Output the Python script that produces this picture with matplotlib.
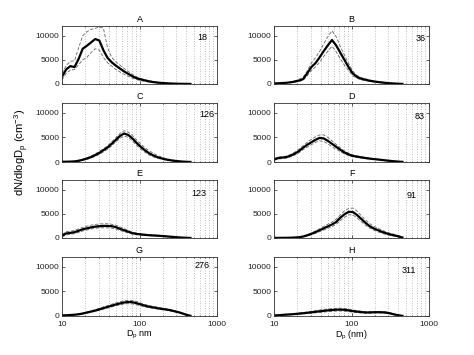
import matplotlib
matplotlib.use("Agg")
import matplotlib.pyplot as plt
from matplotlib.ticker import LogLocator, NullFormatter

plt.rcParams['font.family'] = ['Liberation Sans', 'DejaVu Sans']

# Particle diameter bins (nm)
D = [10, 11.3, 12.8, 14.5, 16.4, 18.5, 20.9, 23.7, 26.8, 30.3, 34.2, 38.7, 43.8, 49.5, 56, 63.3,
     71.6, 81, 91.6, 103.6, 117, 132.5, 150, 169.5, 191.7, 216.8, 245, 277, 313, 355, 401, 454]

panel_names = ["A", "B", "C", "D", "E", "F", "G", "H"]
panel_counts = ["18", "36", "126", "83", "123", "91", "276", "311"]

A_mean = [1500, 3000, 3700, 3500, 5200, 7300, 7900, 8600, 9300, 9000, 7000, 5400, 4500, 3800, 3200, 2600,
          2100, 1600, 1200, 950, 750, 550, 400, 300, 220, 160, 110, 80, 50, 30, 20, 10]
A_up = [2200, 3800, 4700, 4800, 7500, 10000, 10800, 11300, 11500, 11800, 11600, 7500, 5500, 4600, 3900, 3200,
        2600, 2000, 1500, 1150, 900, 680, 500, 380, 280, 200, 140, 100, 65, 40, 25, 12]
A_lo = [800, 2200, 2900, 3000, 4000, 5000, 5500, 6500, 7300, 7000, 5500, 4400, 3700, 3000, 2500, 2000,
        1600, 1200, 900, 700, 550, 400, 300, 220, 160, 120, 80, 60, 35, 20, 12, 5]

B_mean = [100, 150, 200, 250, 350, 500, 700, 1000, 2200, 3500, 4300, 5500, 6800, 8000, 9100, 8000,
          6500, 5000, 3500, 2200, 1500, 1100, 900, 700, 550, 420, 320, 230, 150, 100, 50, 20]
B_up = [150, 200, 260, 330, 450, 650, 950, 1400, 2700, 4300, 5400, 6700, 8300, 9800, 11000, 9800,
        7800, 6000, 4300, 2700, 1800, 1350, 1100, 850, 650, 500, 380, 270, 180, 120, 60, 25]
B_lo = [60, 100, 150, 200, 280, 400, 550, 750, 1700, 2800, 3500, 4500, 5700, 6800, 7800, 6700,
        5200, 3900, 2800, 1700, 1200, 850, 700, 560, 450, 340, 260, 190, 120, 80, 40, 15]

C_mean = [50, 60, 80, 120, 250, 450, 700, 1000, 1400, 1850, 2400, 2950, 3700, 4500, 5300, 5800,
          5500, 4800, 3900, 3100, 2400, 1800, 1350, 1000, 750, 530, 380, 260, 160, 90, 40, 15]
C_up = [80, 90, 110, 160, 320, 550, 850, 1200, 1650, 2150, 2700, 3300, 4100, 4950, 5800, 6350,
        6100, 5400, 4500, 3700, 2900, 2300, 1800, 1350, 1000, 720, 520, 360, 230, 130, 60, 20]
C_lo = [30, 40, 55, 90, 180, 350, 550, 800, 1150, 1550, 2050, 2600, 3300, 4100, 4800, 5300,
        5000, 4300, 3400, 2600, 2000, 1450, 1050, 780, 560, 400, 280, 190, 110, 60, 25, 10]

D_mean = [500, 800, 900, 1000, 1300, 1700, 2200, 2900, 3500, 4000, 4500, 4900, 4800, 4300, 3700, 3100,
          2500, 1950, 1550, 1250, 1100, 950, 820, 700, 600, 520, 420, 320, 230, 150, 80, 30]
D_up = [700, 1000, 1100, 1200, 1550, 2000, 2600, 3300, 4000, 4600, 5100, 5500, 5500, 5000, 4300, 3600,
        2900, 2250, 1800, 1450, 1250, 1080, 930, 800, 690, 590, 480, 370, 270, 170, 90, 35]
D_lo = [350, 600, 700, 800, 1050, 1400, 1850, 2500, 3000, 3500, 4000, 4300, 4200, 3700, 3100, 2600,
        2100, 1650, 1300, 1050, 950, 820, 710, 600, 520, 450, 360, 270, 190, 120, 65, 25]

E_mean = [450, 950, 1050, 1200, 1500, 1800, 2000, 2200, 2350, 2450, 2500, 2500, 2450, 2250, 1900, 1600,
          1300, 1000, 850, 750, 650, 580, 530, 480, 420, 350, 280, 210, 140, 80, 40, 15]
E_up = [700, 1300, 1400, 1550, 1900, 2200, 2450, 2650, 2800, 2900, 2950, 2950, 2850, 2650, 2300, 1950,
        1550, 1200, 1000, 880, 770, 680, 620, 560, 490, 410, 330, 250, 170, 100, 50, 20]
E_lo = [250, 650, 750, 900, 1150, 1450, 1650, 1850, 2000, 2100, 2100, 2100, 2050, 1850, 1550, 1300,
        1050, 800, 700, 620, 540, 480, 440, 400, 350, 290, 230, 170, 110, 65, 30, 10]

F_mean = [20, 25, 30, 40, 60, 100, 150, 300, 550, 850, 1200, 1600, 2000, 2400, 2800, 3300,
          4200, 4900, 5400, 5400, 4800, 4000, 3200, 2500, 2000, 1650, 1300, 1000, 750, 550, 350, 100]
F_up = [30, 35, 40, 55, 80, 130, 200, 380, 680, 1050, 1450, 1900, 2400, 2850, 3300, 3900,
        4800, 5600, 6100, 6200, 5600, 4700, 3800, 3050, 2450, 2050, 1650, 1300, 1000, 750, 500, 150]
F_lo = [10, 15, 20, 25, 40, 70, 100, 230, 430, 680, 950, 1300, 1650, 2000, 2350, 2800,
        3600, 4300, 4800, 4800, 4200, 3400, 2700, 2100, 1650, 1300, 1000, 750, 550, 400, 250, 70]

G_mean = [100, 150, 200, 260, 350, 500, 700, 900, 1100, 1350, 1600, 1850, 2100, 2350, 2550, 2750,
          2850, 2800, 2600, 2350, 2100, 1900, 1750, 1600, 1450, 1350, 1200, 1000, 800, 550, 250, 50]
G_up = [150, 200, 260, 330, 430, 600, 830, 1050, 1300, 1550, 1850, 2100, 2400, 2650, 2900, 3100,
        3200, 3150, 2950, 2650, 2350, 2150, 1950, 1800, 1650, 1500, 1350, 1120, 900, 620, 290, 60]
G_lo = [60, 100, 150, 200, 280, 420, 580, 770, 950, 1170, 1380, 1620, 1850, 2080, 2250, 2450,
        2500, 2450, 2280, 2080, 1850, 1680, 1550, 1420, 1280, 1200, 1060, 880, 700, 480, 210, 40]

H_mean = [100, 150, 220, 280, 330, 400, 480, 560, 650, 750, 850, 950, 1050, 1150, 1220, 1280,
          1300, 1250, 1150, 1000, 900, 800, 720, 720, 760, 780, 760, 700, 550, 330, 150, 30]
H_up = [150, 200, 280, 350, 420, 500, 600, 700, 820, 950, 1080, 1200, 1320, 1420, 1500, 1560,
        1580, 1530, 1400, 1230, 1100, 980, 890, 880, 920, 940, 920, 840, 660, 400, 180, 35]
H_lo = [60, 100, 160, 210, 250, 300, 370, 430, 500, 570, 650, 730, 800, 880, 950, 1000,
        1020, 980, 900, 780, 700, 620, 560, 560, 590, 620, 600, 560, 440, 260, 120, 25]

means = [A_mean, B_mean, C_mean, D_mean, E_mean, F_mean, G_mean, H_mean]
ups = [A_up, B_up, C_up, D_up, E_up, F_up, G_up, H_up]
los = [A_lo, B_lo, C_lo, D_lo, E_lo, F_lo, G_lo, H_lo]

yticks = [0, 5000, 10000]
xticks = [10, 100, 1000]
xtick_labels = ["10", "100", "1000"]
xlabels = {6: "D$_\\mathregular{p}$ nm", 7: "D$_\\mathregular{p}$ (nm)"}

count_pos = [(0.905, 0.80), (0.944, 0.79), (0.933, 0.81), (0.938, 0.77),
             (0.88, 0.76), (0.89, 0.73), (0.903, 0.85), (0.869, 0.77)]

W, H = 474, 355
fig = plt.figure(figsize=(W / 100, H / 100), dpi=100)

col_left = [62, 274]
ax_w = 155
row_px = [(26, 84), (103, 162), (180, 238), (257, 316)]

for i in range(8):
    r, c = divmod(i, 2)
    top, bot = row_px[r]
    ax = fig.add_axes([col_left[c] / W, 1 - bot / H, ax_w / W, (bot - top) / H])
    ax.set_xscale("log")
    ax.set_xlim(10, 1000)
    ax.set_ylim(0, 12000)
    ax.xaxis.set_minor_locator(LogLocator(base=10, subs=range(2, 10)))
    ax.xaxis.set_minor_formatter(NullFormatter())
    ax.set_xticks(xticks)
    ax.grid(True, which="both", axis="x", linestyle=(0, (1, 2)), color="#aaaaaa", linewidth=0.6)
    ax.set_yticks(yticks)
    ax.set_yticklabels([str(v) for v in yticks], fontsize=6)
    if r == 3:
        ax.set_xticklabels(xtick_labels, fontsize=6)
        ax.set_xlabel(xlabels[i], fontsize=6.5, labelpad=1)
    else:
        ax.set_xticklabels([])
    ax.tick_params(axis="both", which="both", direction="in", top=True, right=True,
                   length=2, width=0.5, pad=2, colors="#222222")
    ax.tick_params(axis="x", which="both", pad=3.5)
    ax.tick_params(axis="x", which="minor", length=1)
    for s in ax.spines.values():
        s.set_linewidth(0.6)
        s.set_color("#333333")
    ax.plot(D, ups[i], linestyle=(0, (4, 2)), color="#666666", linewidth=0.6)
    ax.plot(D, los[i], linestyle=(0, (4, 2)), color="#666666", linewidth=0.6)
    ax.plot(D, means[i], color="black", linewidth=1.6)
    ax.set_title(panel_names[i], fontsize=6.5, pad=3)
    ax.text(count_pos[i][0], count_pos[i][1], panel_counts[i], transform=ax.transAxes,
            ha="center", va="center", fontsize=6.5)

fig.text(22 / W, 1 - 152 / H, "dN/dlogD$_\\mathregular{p}$ (cm$^\\mathregular{-3}$)",
         rotation=90, ha="center", va="center", fontsize=8)

fig.savefig("out.png", dpi=100, facecolor="white")
